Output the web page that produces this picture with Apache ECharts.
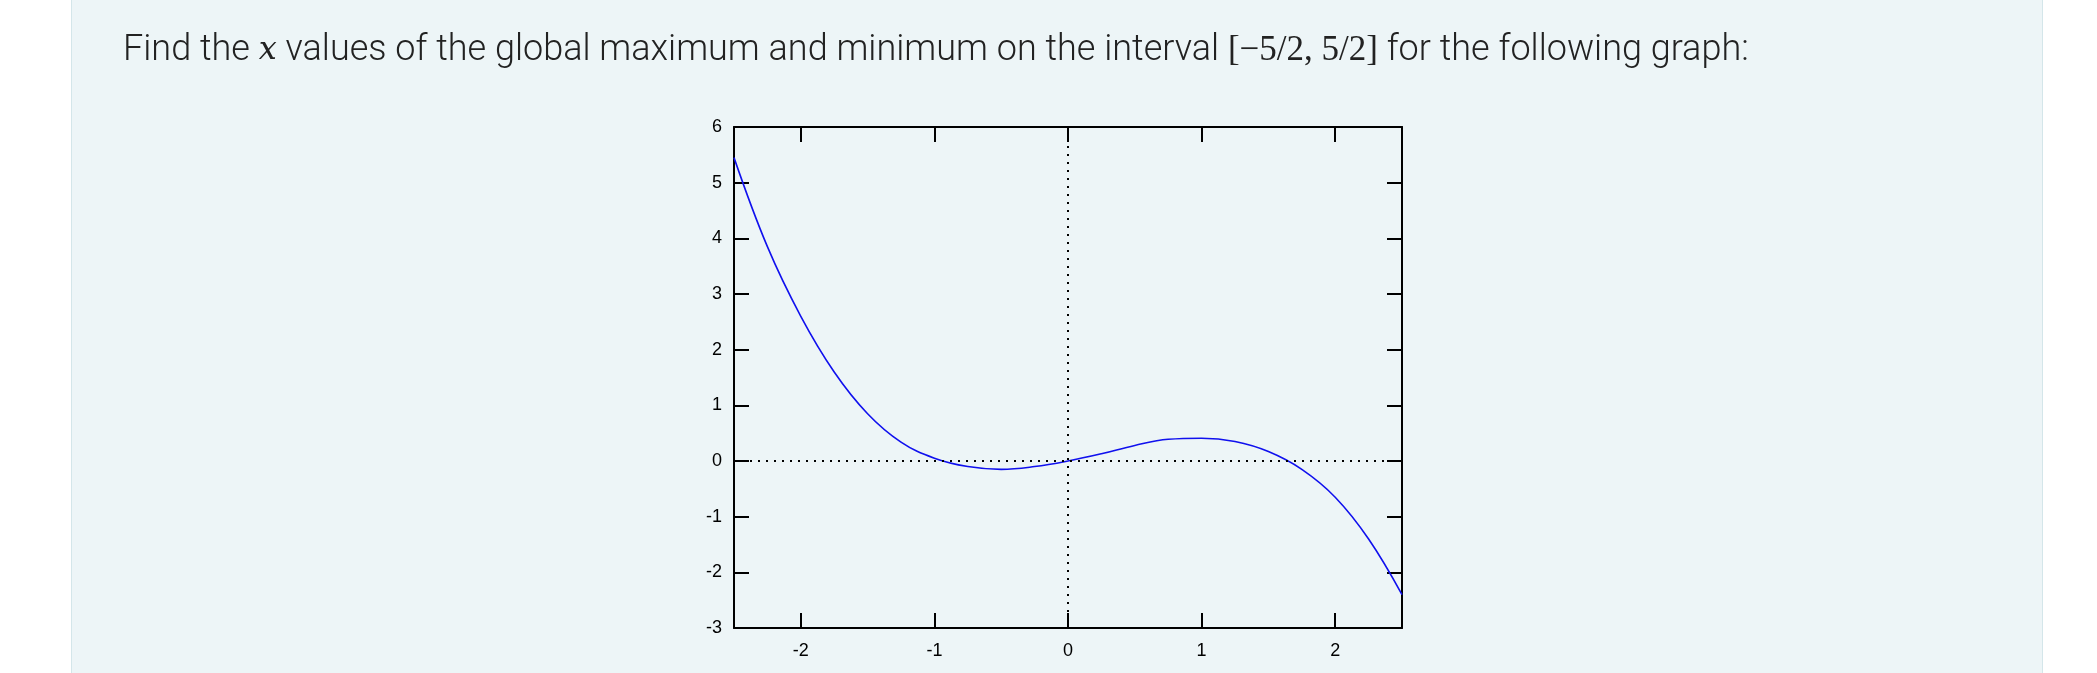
<!DOCTYPE html>
<html><head><meta charset="utf-8">
<script src="https://cdn.jsdelivr.net/npm/echarts@6/dist/echarts.min.js"></script>
<style>
html,body{margin:0;padding:0;background:#fff;}
#card{position:absolute;left:71px;top:-2px;width:1970px;height:680px;background:#edf5f7;border:1px solid #d4e6ea;}
#c{position:absolute;left:0;top:0;width:2097px;height:673px;}
</style></head><body>
<div id="card"></div>
<div id="c"></div>
<script>
const xValues = [-2.5,-2.25,-2.0,-1.75,-1.5,-1.25,-1.0,-0.75,-0.5,-0.25,0,0.25,0.5,0.75,1.0,1.25,1.5,1.75,2.0,2.25,2.5];
const yValues = [5.45,3.85,2.6,1.6,0.85,0.34,0.05,-0.1,-0.15,-0.1,0,0.13,0.28,0.39,0.41,0.35,0.17,-0.15,-0.65,-1.4,-2.4];
const xTicks = [-2,-1,0,1,2];

const chart = echarts.init(document.getElementById('c'));
const lbl = {fontFamily:'Liberation Sans, Arial', fontSize:18, color:'#000'};
const line = {onZero:false, lineStyle:{color:'#000', width:2}};
const tick = {inside:true, length:15, lineStyle:{color:'#000',width:2}};
chart.setOption({
  animation:false,
  title:{left:118, top:28, text:'{a|Find the }{x|x}{a| values of the global maximum and minimum on the interval }{m|[−5/2, 5/2]}{a| for the following graph:}',
    textStyle:{fontWeight:'normal', rich:{
      a:{fontFamily:'Roboto',fontWeight:300,fontSize:36,color:'#222'},
      x:{fontFamily:'DejaVu Serif, Liberation Serif',fontStyle:'italic',fontWeight:'normal',fontSize:32,color:'#222'},
      m:{fontFamily:'Liberation Serif',fontWeight:'normal',fontSize:35,color:'#222'}}}},
  grid:{left:734, right:695, top:127, bottom:45},
  xAxis:[
    {type:'value', min:-2.5, max:2.5, position:'bottom', axisLine:line, splitLine:{show:false},
     axisTick:Object.assign({customValues:xTicks}, tick),
     axisLabel:Object.assign({margin:14, customValues:xTicks}, lbl)},
    {type:'value', min:-2.5, max:2.5, position:'top', axisLine:line, splitLine:{show:false},
     axisTick:Object.assign({customValues:xTicks}, tick),
     axisLabel:{show:false}}
  ],
  yAxis:[
    {type:'value', min:-3, max:6, interval:1, position:'left', axisLine:line, splitLine:{show:false},
     axisTick:tick, axisLabel:Object.assign({margin:12}, lbl)},
    {type:'value', min:-3, max:6, interval:1, position:'right', axisLine:line, splitLine:{show:false},
     axisTick:tick, axisLabel:{show:false}}
  ],
  series:[{
    type:'line', smooth:0.4, showSymbol:false,
    data:xValues.map((x,i)=>[x,yValues[i]]),
    lineStyle:{color:'#1010ee', width:1.6},
    markLine:{silent:true, symbol:'none', label:{show:false},
      lineStyle:{color:'#000', width:2, type:[2,6]},
      data:[{xAxis:0},{yAxis:0}]}
  }]
});
</script></body></html>
